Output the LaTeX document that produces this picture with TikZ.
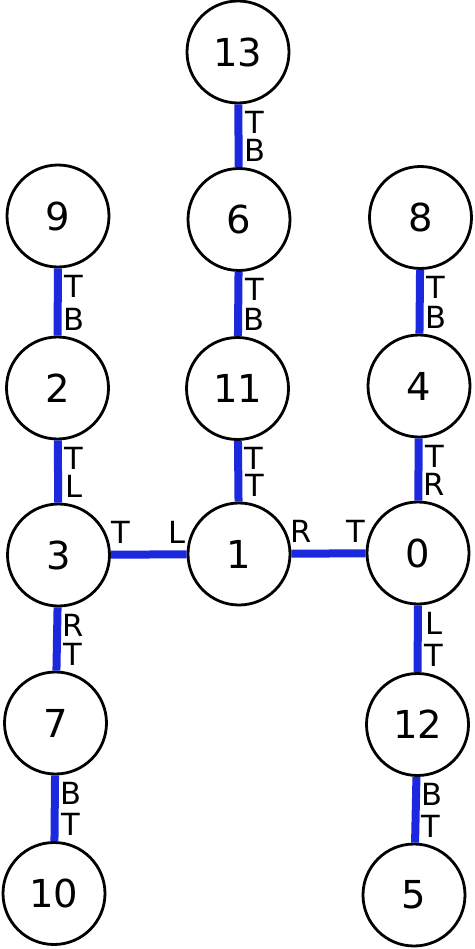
\documentclass[tikz,border=0pt]{standalone}
\usepackage{fontspec}
\setmainfont{DejaVu Sans}
\definecolor{linkblue}{RGB}{28,40,222}
\begin{document}
\begin{tikzpicture}[x=1pt,y=-1pt,
  vert/.style={circle, draw=black, fill=white, line width=2.8pt, minimum size=102pt, inner sep=0pt, font=\fontsize{38.5}{40}\selectfont},
  link/.style={draw=linkblue, line width=8pt},
  lbl/.style={inner sep=0pt, font=\fontsize{30.5}{32}\selectfont},
  ls/.style={lbl, pos=0, anchor=north, xshift=16pt, yshift=-2.5pt},
  le/.style={lbl, pos=1, anchor=south, xshift=16pt, yshift=1.5pt},
  hs/.style={lbl, pos=0, anchor=south, xshift=9.5pt, yshift=7pt},
  he/.style={lbl, pos=1, anchor=south, xshift=-9.5pt, yshift=7pt}]
\fill[white] (0,0) rectangle (474,949);
\useasboundingbox (0,0) rectangle (474,949);
\node[vert] (n13) at (238,52) {13};
\node[vert] (n9) at (58,216) {9};
\node[vert] (n6) at (239,219.5) {6};
\node[vert] (n8) at (420.5,217.5) {8};
\node[vert] (n2) at (57.5,388) {2};
\node[vert] (n11) at (237.5,388.5) {11};
\node[vert] (n4) at (419,386) {4};
\node[vert] (n3) at (58.5,555) {3};
\node[vert] (n1) at (239,554) {1};
\node[vert] (n0) at (418,553) {0};
\node[vert] (n7) at (55.5,723) {7};
\node[vert] (n12) at (417.5,724.5) {12};
\node[vert] (n10) at (54,893.5) {10};
\node[vert] (n5) at (414,895) {5};
\draw[link] (n13) -- node[ls]{T} node[le]{B} (n6);
\draw[link] (n9) -- node[ls]{T} node[le]{B} (n2);
\draw[link] (n6) -- node[ls]{T} node[le]{B} (n11);
\draw[link] (n8) -- node[ls]{T} node[le]{B} (n4);
\draw[link] (n2) -- node[ls]{T} node[le]{L} (n3);
\draw[link] (n11) -- node[ls]{T} node[le]{T} (n1);
\draw[link] (n4) -- node[ls]{T} node[le]{R} (n0);
\draw[link] (n3) -- node[hs]{T} node[he]{L} (n1);
\draw[link] (n1) -- node[hs]{R} node[he]{T} (n0);
\draw[link] (n3) -- node[ls]{R} node[le]{T} (n7);
\draw[link] (n0) -- node[ls]{L} node[le]{T} (n12);
\draw[link] (n7) -- node[ls]{B} node[le]{T} (n10);
\draw[link] (n12) -- node[ls]{B} node[le]{T} (n5);
\end{tikzpicture}
\end{document}
